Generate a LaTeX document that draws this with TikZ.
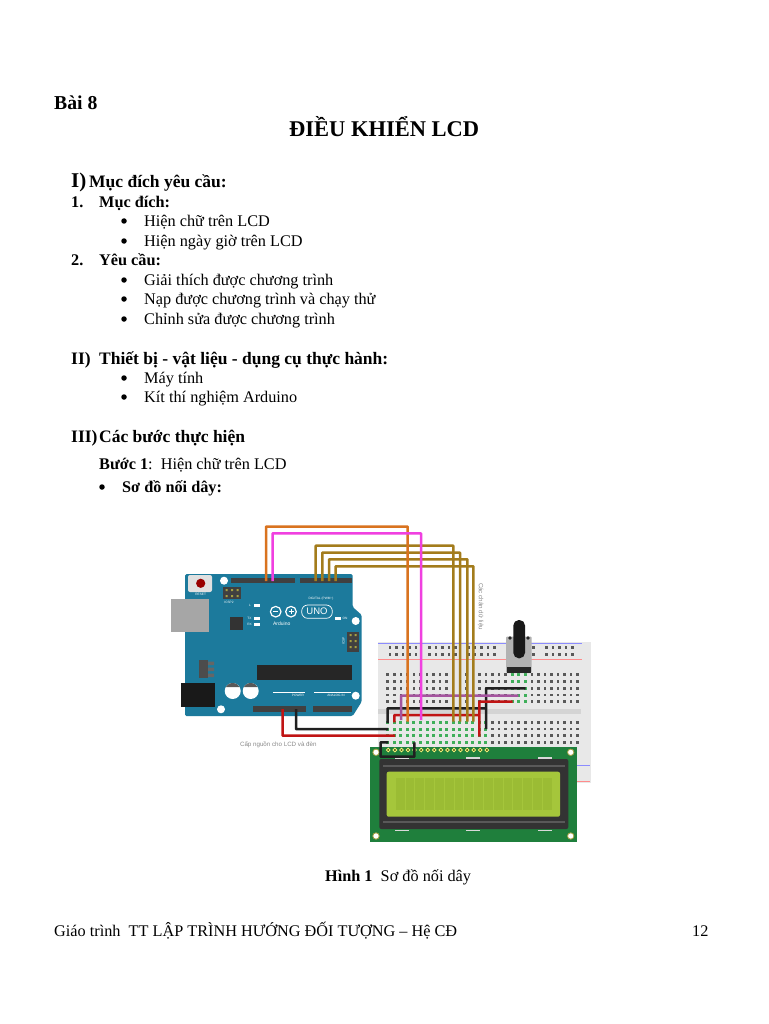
\documentclass[tikz,border=0pt]{standalone}
\usepackage{fontspec}
\setmainfont{Liberation Serif}
\newfontfamily\boardfont{Liberation Sans}
\usetikzlibrary{calc}
\definecolor{arduinoblue}{HTML}{1C7A9C}
\definecolor{wirebrown}{HTML}{A37C1C}
\definecolor{wireorange}{HTML}{D9731F}
\definecolor{wirepink}{HTML}{F040E0}
\definecolor{wirepurple}{HTML}{A4549E}
\definecolor{wirered}{HTML}{C01414}
\definecolor{wireblack}{HTML}{202020}
\definecolor{pcbgreen}{HTML}{1F7F3C}
\definecolor{lcdlime}{HTML}{A5C63B}
\definecolor{lcdinner}{HTML}{9BBC34}
\definecolor{holegreen}{HTML}{3FAF5A}
\definecolor{captiongray}{HTML}{8A8A8A}
\tikzset{
  pagetext/.style={anchor=base west,inner sep=0pt,font=\fontsize{16.25}{16.25}\selectfont},
  headtext/.style={pagetext,font=\fontsize{17.5}{17.5}\selectfont\bfseries},
  boldtext/.style={pagetext,font=\fontsize{16.25}{16.25}\selectfont\bfseries},
  dotmark/.style={fill=black,circle,inner sep=0pt,minimum size=5.5pt},
  boardtext/.style={inner sep=0pt,text=white,font=\boardfont\fontsize{3.2}{3.2}\selectfont},
  graytext/.style={inner sep=0pt,text=captiongray,font=\boardfont\fontsize{6.2}{6.2}\selectfont},
  wire/.style={line width=2.5pt,rounded corners=.5pt},
  header/.style={fill=black!75},
  mounthole/.style={fill=white}
}
\begin{document}
\begin{tikzpicture}[x=1pt,y=-1pt]
  \useasboundingbox[fill=white] (0,0) rectangle (768,1024);

  \node[pagetext,font=\fontsize{19.7}{19.7}\selectfont\bfseries] (lesson) at (54,110) {Bài 8};
  \node[pagetext,font=\fontsize{22.5}{22.5}\selectfont\bfseries] (title) at (289,136.5) {ĐIỀU KHIỂN LCD};
  \node[pagetext,font=\fontsize{21}{21}\selectfont\bfseries] (secI) at (71,187.5) {I)};
  \node[headtext] (secIt) at (89,187.5) {Mục đích yêu cầu:};
  \node[boldtext] (n1) at (71,208) {1.};
  \node[boldtext] (n1t) at (99,208) {Mục đích:};
  \node[boldtext] (n2) at (71,265.5) {2.};
  \node[boldtext] (n2t) at (99,265.5) {Yêu cầu:};
  \foreach \ypos/\txt in {226/Hiện chữ trên LCD,246/Hiện ngày giờ trên LCD,285/Giải thích được chương trình,304/Nạp được chương trình và chạy thử,324/Chỉnh sửa được chương trình,383/Máy tính,402/Kít thí nghiệm Arduino}{
    \node[dotmark] (b\ypos) at (124,\ypos-5) {};
    \node[pagetext] (t\ypos) at (144,\ypos) {\txt};
  }
  \node[headtext] (secII) at (71,364) {II)};
  \node[headtext] (secIIt) at (99,364) {Thiết bị - vật liệu - dụng cụ thực hành:};
  \node[headtext] (secIII) at (71,442) {III)};
  \node[headtext] (secIIIt) at (99,442) {Các bước thực hiện};
  \node[pagetext] (step1) at (99,469) {\textbf{Bước 1}:\ \ Hiện chữ trên LCD};
  \node[dotmark] (b492) at (102,487) {};
  \node[boldtext] (t492) at (122,492) {Sơ đồ nối dây:};
  \node[pagetext] (caption) at (325,881) {\textbf{Hình 1}\ \ Sơ đồ nối dây};
  \node[pagetext] (footer) at (54,936) {Giáo trình\ \ TT LẬP TRÌNH HƯỚNG ĐỐI TƯỢNG – Hệ CĐ};
  \node[pagetext] (pageno) at (692,936) {12};

  % breadboard
  \fill[black!9] (378.3,641.7) rectangle (590.7,783.3);
  \fill[black!17] (378.3,709) rectangle (581,714.3);
  \draw[blue!45,line width=.8pt] (378.3,643.3) -- (582,643.3);
  \draw[red!45,line width=.8pt] (378.3,659.7) -- (582,659.7);
  \draw[blue!45,line width=.8pt] (378.3,765.7) -- (590,765.7);
  \draw[red!45,line width=.8pt] (378.3,781.7) -- (590,781.7);
  \foreach \xstart in {390,429.3,468.3,507.3,546.7}
    \foreach \i in {0,...,4}
      \foreach \ypos in {647.7,654.3}
        \fill[black!65] (\xstart+6.5*\i-1.25,\ypos-1.25) rectangle ++(2.5,2.5);
  \foreach \i in {0,...,29}{
    \foreach \ypos in {674.3,681.7,688.3,695,701.7,722.3,729,735.7,742.3}
      \fill[black!65] (387.7+6.55*\i-1.25,\ypos-1.25) rectangle ++(2.5,2.5);
  }
  \foreach \i in {0,...,15}
    \foreach \ypos in {722.3,729,735.7,742.3}
      \fill[holegreen] (387.7+6.55*\i-1.5,\ypos-1.5) rectangle ++(3,3);
  \foreach \i in {19,20,21}
    \foreach \ypos in {674.3,681.7,688.3,695,701.7}
      \fill[holegreen] (387.7+6.55*\i-1.5,\ypos-1.5) rectangle ++(3,3);

  % LCD
  \fill[pcbgreen] (370,746.7) rectangle (576.7,842.3);
  \foreach \xpos/\ypos in {376/752.3,570.7/752.3,376/836,570.7/836}
    \filldraw[fill=white,draw=yellow!60!black,line width=.8pt] (\xpos,\ypos) circle (3.2);
  \foreach \i in {0,...,15}
    \filldraw[fill=lcdlime!50!black,draw=yellow!50!white,line width=.7pt] (388.3+6.57*\i,750) circle (1.9);
  \foreach \xpos in {395,466,538}{
    \fill[white!85!black] (\xpos,757) rectangle ++(14,1.5);
    \fill[white!85!black] (\xpos,829.5) rectangle ++(14,1.5);
  }
  \fill[black!80,rounded corners=2pt] (379.3,759) rectangle (568.3,829);
  \fill[black!65] (383,765) rectangle (565,767);
  \fill[black!65] (383,821) rectangle (565,823);
  \fill[lcdlime,rounded corners=2pt] (386.7,771.7) rectangle (560,816.7);
  \fill[lcdinner] (395,778.3) rectangle (551.7,810);
  \foreach \i in {0,...,15}
    \draw[lcdlime,line width=.5pt] (395+9.8*\i,778.3) -- (395+9.8*\i,810);

  % potentiometer
  \fill[black!30,rounded corners=1pt] (506,636.7) rectangle (531.7,673);
  \fill[black!85] (507.3,666.7) rectangle (531,673.3);
  \fill[black!85] (510,638) circle (1.8) (528,638) circle (1.8);
  \fill[black!90,rounded corners=5.5pt] (513.3,620) rectangle (525,658.3);

  % arduino
  \fill[arduinoblue,rounded corners=1.5pt] (185,574) -- (352.7,574) -- (352.7,607) -- (361.7,615) -- (361.7,701.7) -- (352.7,716) -- (185,716) -- cycle;
  \fill[black!35] (170.7,599) rectangle (209,631.7);
  \fill[black!90] (180.7,683) rectangle (215,706.7);
  \fill[black!12,rounded corners=2pt] (188,575) rectangle (212,592);
  \fill[red!60!black] (200.7,583.3) circle (4.6);
  \foreach \xpos/\ypos in {224/580.7,355.7/621,355.7/695.7,221/709.3}
    \fill[mounthole] (\xpos,\ypos) circle (4);
  \fill[header] (230.7,577.7) rectangle (295,583.3);
  \fill[header] (300,577.7) rectangle (351.7,583.3);
  \fill[header] (253.3,706) rectangle (305.7,711.7);
  \fill[header] (312.7,706) rectangle (351.7,711.7);
  \fill[header] (223.3,586.7) rectangle (241,599.3);
  \fill[header] (346.7,631.7) rectangle (359,651.7);
  \foreach \xpos in {226.5,232,237.5}
    \fill[yellow!60!black] (\xpos-1,589) rectangle ++(2,2) (\xpos-1,595) rectangle ++(2,2);
  \foreach \ypos in {635,641,647}
    \fill[yellow!60!black] (349.5,\ypos-1) rectangle ++(2,2) (354.5,\ypos-1) rectangle ++(2,2);
  \fill[black!85] (256.7,665) rectangle (352.3,679.7);
  \fill[black!80] (230,616.7) rectangle (242.7,630);
  \fill[black!70] (199,660) rectangle (208,678.3);
  \fill[black!60] (208,661.5) rectangle (214,665) (208,667.5) rectangle (214,671) (208,673.5) rectangle (214,677);
  \foreach \xpos in {232.7,250.7}{
    \fill[white] (\xpos,691) circle (8);
    \fill[black!65] (\xpos-6.9,687) arc (210:330:8) -- cycle;
  }
  \foreach \xpos/\ypos in {256.7/605.7,256.7/618.3,256.7/624.3,337.7/618.3}
    \fill[white] (\xpos-3,\ypos-1.5) rectangle ++(6,3);
  \draw[white,line width=1.2pt] (275.7,611.7) circle (5.3) (291,611.7) circle (5.3);
  \draw[white,line width=.8pt] (273.2,611.7) -- (278.2,611.7) (288.5,611.7) -- (293.5,611.7) (291,609.2) -- (291,614.2);
  \draw[white,line width=.7pt,rounded corners=6pt] (301.7,605) rectangle (332.3,618.3);
  \node[boardtext,font=\boardfont\fontsize{9.5}{9.5}\selectfont] (uno) at (317,611.7) {UNO};
  \node[boardtext,font=\boardfont\fontsize{5}{5}\selectfont] (logo) at (281.7,623.3) {Arduino};
  \node[boardtext] (resetlbl) at (200.7,594.5) {RESET};
  \node[boardtext] (icsptwo) at (229,602) {ICSP2};
  \node[boardtext] (digital) at (321,598.5) {DIGITAL (PWM\textasciitilde)};
  \node[boardtext,rotate=90] (icsp) at (343.5,641) {ICSP};
  \node[boardtext] (lbll) at (250,605.7) {L};
  \node[boardtext] (lbltx) at (249.5,618.3) {TX};
  \node[boardtext] (lblrx) at (249.5,624.3) {RX};
  \node[boardtext] (lblon) at (345,618.3) {ON};
  \node[boardtext] (power) at (298,695) {POWER};
  \node[boardtext] (analog) at (336,695) {ANALOG IN};
  \draw[white,line width=.3pt] (273,692.5) -- (305,692.5) (314,692.5) -- (351,692.5);

  % wires
  \coordinate (gnd) at (296,709);
  \coordinate (vcc) at (282.7,709);
  \coordinate (rsjump) at (388.3,742.3);
  \coordinate (rwjump) at (414.3,742.3);
  \draw[wire,wireblack] (gnd) |- (388.3,729);
  \draw[wire,wirered] (vcc) |- (395,735.7);
  \draw[wire,wireblack] (rsjump) -- (380.7,742.3) |- (414.3,756.7) -- (rwjump);
  \draw[wire,wireblack] (387.7,723) |- (486,708.3) -- (486,729);
  \draw[wire,wireblack] (486,708.3) |- (525.7,688.3);
  \draw[wire,wirered] (394.3,722.3) |- (479.3,715);
  \draw[wire,wirered] (479.3,736.7) |- (512.7,701.7);
  \draw[wire,wirepurple] (401,720) |- (518.3,695.7);
  \foreach \xa/\xb/\ytop [count=\n] in {315.7/453.3/545.7,322.3/460/552.7,329/467.3/559.3,335.7/473.3/566.3}{
    \coordinate (dat\n) at (\xa,581);
    \coordinate (lcd\n) at (\xb,721.7);
    \draw[wire,wirebrown] (dat\n) |- (\xb,\ytop) -- (lcd\n);
  }
  \coordinate (rs) at (266,581);
  \coordinate (en) at (272.7,581);
  \coordinate (lcdrs) at (407.7,721.7);
  \coordinate (lcden) at (421,720);
  \draw[wire,wireorange] (rs) |- (407.7,526.7) -- (lcdrs);
  \draw[wire,wirepink] (en) |- (421,533.3) -- (lcden);

  \node[graytext] (powernote) at (278.3,745) {Cấp nguồn cho LCD và đèn};
  \node[graytext,rotate=-90] (datanote) at (480.7,606.5) {Các chân dữ liệu};
\end{tikzpicture}
\end{document}
